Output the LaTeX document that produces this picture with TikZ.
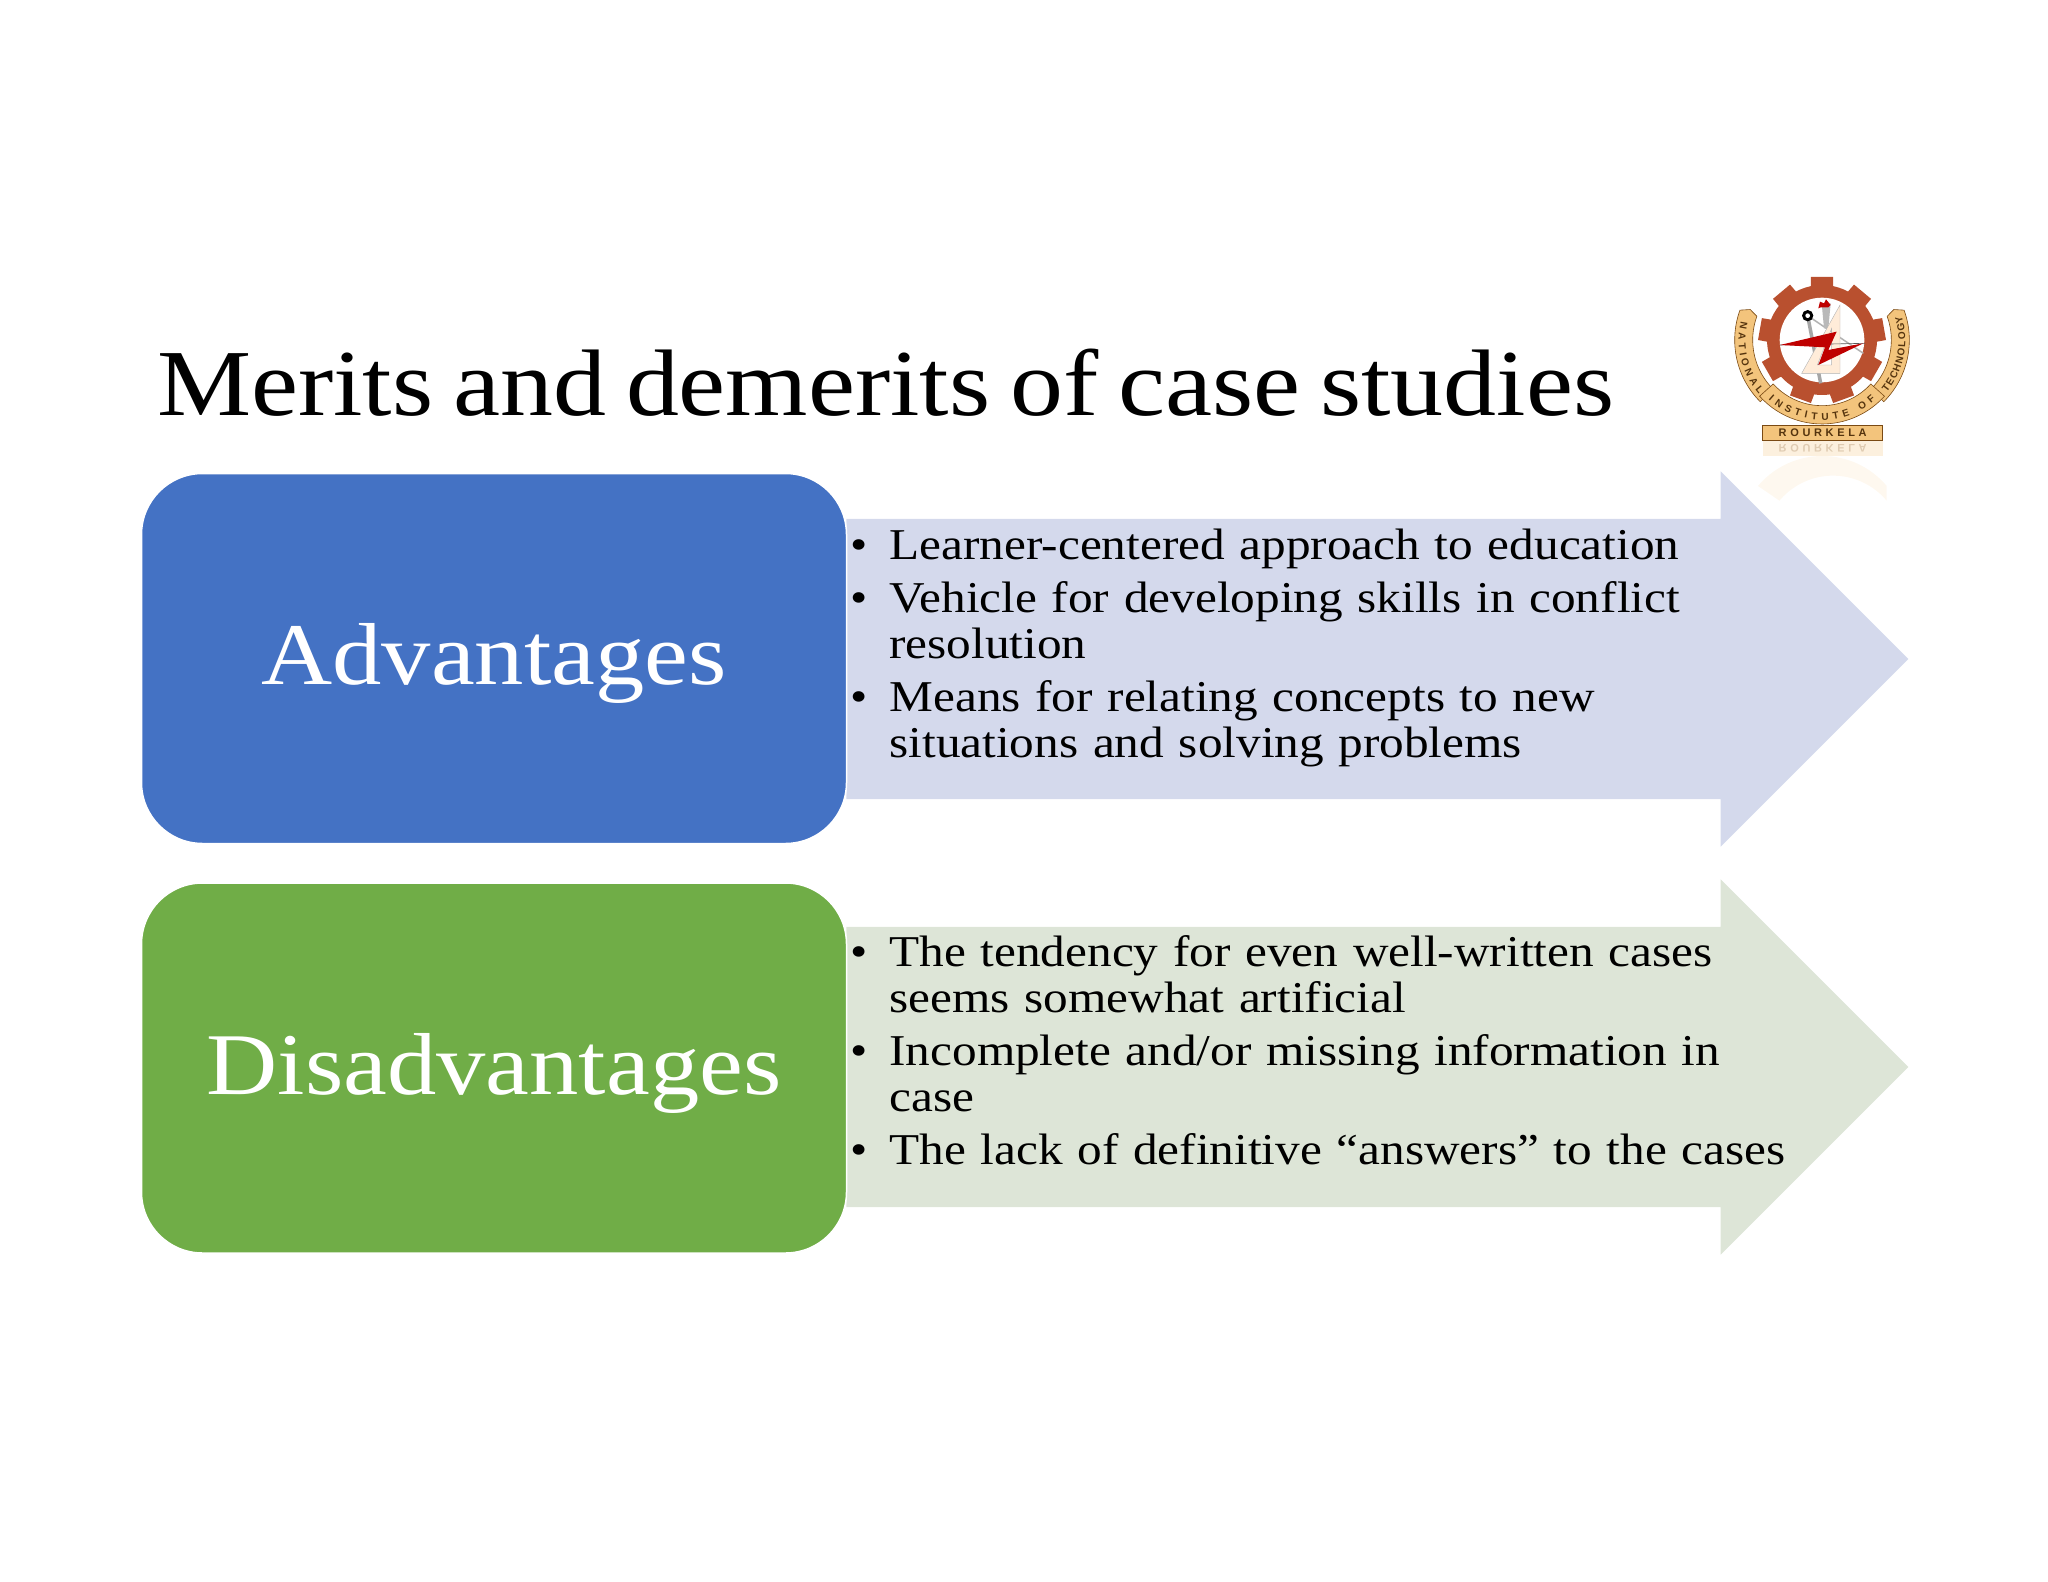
\documentclass[tikz,border=0pt]{standalone}
\usepackage{fontspec}
\setmainfont[FakeStretch=1.12, WordSpace=0.75]{Liberation Serif}
\newfontfamily\logofont{Liberation Sans}
\usetikzlibrary{positioning, shapes.arrows, decorations.text}
\definecolor{advblue}{HTML}{4472C4}
\definecolor{advtint}{HTML}{D4D9EC}
\definecolor{disgreen}{HTML}{70AD47}
\definecolor{distint}{HTML}{DDE5D7}
\definecolor{logorust}{HTML}{B9502F}
\definecolor{logoband}{HTML}{F3C47C}
\definecolor{logoline}{HTML}{7A4A14}
\newcommand{\caseitem}[1]{\par\hangindent=41pt\hangafter=1\noindent\makebox[41pt][l]{\hspace{2pt}\textbullet}#1\par}

\begin{document}
\begin{tikzpicture}[
    x=1pt,
    y=-1pt,
    node distance=0pt,
    headbox/.style={rectangle, rounded corners=61pt, draw=white, line width=1.5pt, minimum width=705pt, minimum height=370pt, text=white, text height=62pt, text depth=10pt, font=\fontsize{88}{88}\selectfont},
    bararrow/.style={single arrow, single arrow head extend=47.5pt, minimum width=375pt, minimum height=1062pt, inner xsep=0pt, inner ysep=140pt, anchor=west},
    listbox/.style={text width=1000pt, inner sep=0pt, font=\fontsize{44}{46}\selectfont, anchor=west},
    band/.style={fill=logoband, draw=logoline, line width=.6pt},
    bandtext/.style={decorate, decoration={text along path, text align={fit to path}, text color=logoline!70!black, text={|\logofont\bfseries\fontsize{10}{10}\selectfont|#1}}}
  ]
  \useasboundingbox (0,0) rectangle (2048,1582);

  % --- TITLE ---
  \node[anchor=base west, inner sep=0pt, font=\fontsize{94.5}{95}\selectfont] (title) at (157,415) {Merits and demerits of case studies};

  % --- ARROWS ---
  \node[bararrow, fill=advtint] (advarrow) at (846,659) {};
  \node[bararrow, fill=distint] (disarrow) at (846,1067) {};

  % --- BOXES ---
  \node[headbox, fill=advblue] (adv) at (494,658.5) {Advantages};
  \node[headbox, fill=disgreen, below=38pt of adv] (dis) {Disadvantages};

  % --- LISTS ---
  \node[listbox, right=1pt of adv, yshift=18.5pt] (advlist) {%
    \caseitem{Learner-centered approach to education}
    \vspace{7pt}
    \caseitem{Vehicle for developing skills in conflict\newline resolution}
    \vspace{7pt}
    \caseitem{Means for relating concepts to new\newline situations and solving problems}};
  \node[listbox, right=1pt of dis, yshift=25pt] (dislist) {%
    \caseitem{The tendency for even well-written cases\newline seems somewhat artificial}
    \vspace{7pt}
    \caseitem{Incomplete and/or missing information in\newline case}
    \vspace{7pt}
    \caseitem{The lack of definitive “answers” to the cases}};

  % --- LOGO: GEAR AND RIBBON ---
  \begin{scope}[shift={(1822,340)}, x=.3333pt, y=.3333pt]
    \fill[logorust] (0,0) circle[radius=165];
    \foreach \a in {90,50,...,-230} {
      \fill[logorust] (\a-13:150) -- (\a-10:192) -- (\a+10:192) -- (\a+13:150) -- cycle;
    }
    \fill[white] (0,0) circle[radius=127];

    \draw[band] (160:262) arc[start angle=160, end angle=225, radius=262] -- (225:208)
      arc[start angle=225, end angle=160, radius=208] -- (157:234) -- cycle;
    \draw[band] (20:262) arc[start angle=20, end angle=-45, radius=262] -- (-45:208)
      arc[start angle=-45, end angle=20, radius=208] -- (23:234) -- cycle;
    \draw[band] (222:252) arc[start angle=222, end angle=318, radius=252] -- (318:197)
      arc[start angle=318, end angle=222, radius=197] -- cycle;

    \path[bandtext=NATIONAL] (167:250) arc[start angle=167, end angle=221, radius=250];
    \path[bandtext=INSTITUTE OF] (228:240) arc[start angle=228, end angle=312, radius=240];
    \path[bandtext=TECHNOLOGY] (-39:250) arc[start angle=-39, end angle=17, radius=250];
  \end{scope}

  % --- LOGO: EMBLEM AND NAME PLATE ---
  \begin{scope}[shift={(1700,250)}, x=.3333pt, y=-.3333pt]
    \draw[gray!70, line width=3.5pt] (323,197) -- (362,400);
    \draw[gray!60, line width=1.5pt] (323,197) -- (490,310);
    \fill[gray!55] (365,160) -- (392,160) -- (385,235) -- (372,235) -- cycle;
    \fill[red!75!black] (355,175) -- (360,155) -- (372,160) -- (378,148) -- (392,165) -- (385,172) -- (362,172) -- cycle;
    \fill[orange!15!white, draw=gray!60, line width=.4pt, even odd rule]
      (420,165) -- (420,370) -- (305,370) -- cycle (395,235) -- (395,345) -- (352,345) -- cycle;
    \fill[black] (323,197) circle[radius=17];
    \fill[white] (323,197) circle[radius=7];
    \draw[gray!70!black, line width=.6pt] (240,285) -- (495,280);
    \fill[red!75!black] (240,285) -- (410,245) -- (385,300) -- (490,280) -- (355,345) -- (375,292) -- cycle;

    \node[draw=logoline, fill=logoband, line width=.6pt, minimum width=120pt, minimum height=15pt, inner sep=0pt, font=\logofont\bfseries\fontsize{11}{11}\selectfont, text=logoline!70!black] (plate) at (368,548) {R\,\,O\,\,U\,\,R\,\,K\,\,E\,\,L\,\,A};
    \node[fill=logoband, fill opacity=.25, text opacity=.22, minimum width=120pt, minimum height=15pt, inner sep=0pt, yscale=-1, anchor=south, font=\logofont\bfseries\fontsize{11}{11}\selectfont, text=logoline] (mirror) at (plate.south) {R\,\,O\,\,U\,\,R\,\,K\,\,E\,\,L\,\,A};
    \fill[logoband, opacity=.12] (367,870) ++(-140:252) arc[start angle=-140, end angle=-40, radius=252] -- ++(0,44) arc[start angle=-40, end angle=-140, radius=210] -- cycle;
  \end{scope}

\end{tikzpicture}
\end{document}
